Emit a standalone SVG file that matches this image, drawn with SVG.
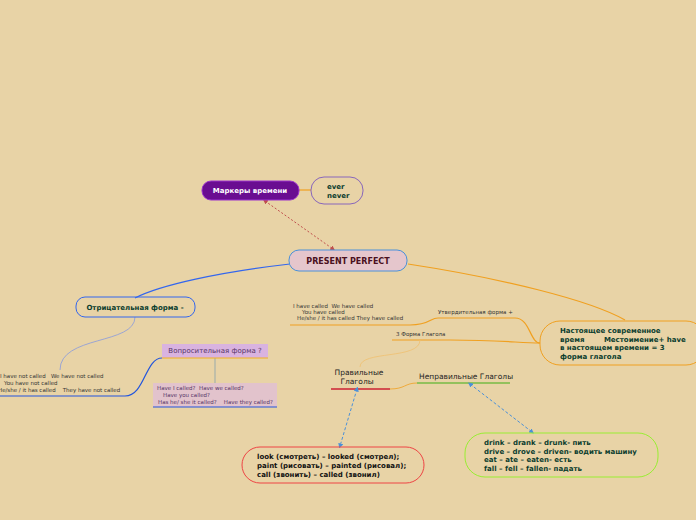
<svg xmlns="http://www.w3.org/2000/svg" width="696" height="520" viewBox="0 0 696 520">
<defs>
<marker id="ab" viewBox="0 0 10 10" refX="5" refY="5" markerWidth="5" markerHeight="5" orient="auto-start-reverse"><path d="M0,0L10,5L0,10z" fill="#4a90d9"/></marker>
<marker id="ar" viewBox="0 0 10 10" refX="5" refY="5" markerWidth="5" markerHeight="5" orient="auto-start-reverse"><path d="M0,0L10,5L0,10z" fill="#c0504d"/></marker>
</defs>
<style>
text{font-family:"DejaVu Sans",sans-serif;white-space:pre}
.b{font-weight:bold;font-size:7px;fill:#0b3d2e}
.s{font-size:5.5px;fill:#333}
.l{font-size:7.5px;fill:#222}
</style>
<rect width="696" height="520" fill="#e8d3a6"/>
<g id="connectors" fill="none">
<path d="M290,264 C220,272 160,285 135,298" stroke="#3366ee" stroke-width="1.2"/>
<path d="M408,264 C500,278 590,300 625,320" stroke="#f0a020" stroke-width="1.2"/>
<path d="M135,317 C135,345 60,335 60,370" stroke="#8899dd" stroke-width="0.8"/>
<path d="M0,396 L125,396 C145,396 145,358 162,358" stroke="#2255dd" stroke-width="1.2"/>
<line x1="215" y1="358" x2="215" y2="383" stroke="#9aa" stroke-width="1"/>
<path d="M290,325 L410,325 C430,325 430,318 438,318 L515,318 C530,318 530,343 540,343" stroke="#f0a020" stroke-width="1.2"/>
<path d="M392,340 L450,340 C500,340 520,343 540,343" stroke="#f0a020" stroke-width="1.2"/>
<path d="M420,340 C420,360 360,350 360,367" stroke="#f0c070" stroke-width="0.8"/>
<line x1="331" y1="389" x2="390" y2="389" stroke="#cc2233" stroke-width="1.5"/>
<path d="M390,389 C405,389 405,383 417,383" stroke="#f0a020" stroke-width="0.8"/>
<line x1="417" y1="383" x2="510" y2="383" stroke="#77bb44" stroke-width="1.5"/>
<line x1="299" y1="190" x2="311" y2="190" stroke="#f0a020" stroke-width="1.2"/>
<line x1="265" y1="201" x2="333" y2="249" stroke="#c0504d" stroke-dasharray="2,2" marker-start="url(#ar)" marker-end="url(#ar)"/>
<line x1="357" y1="389" x2="340" y2="446" stroke="#4a90d9" stroke-dasharray="3,2" marker-start="url(#ab)" marker-end="url(#ab)"/>
<line x1="470" y1="384" x2="532" y2="432" stroke="#4a90d9" stroke-dasharray="3,2" marker-start="url(#ab)" marker-end="url(#ab)"/>
</g>
<g id="present"><rect x="289" y="250" width="118" height="21" rx="10" fill="#e5c6cc" stroke="#4a90d9"/><text x="348" y="264" text-anchor="middle" style="font-weight:bold;font-size:8px;fill:#4a1020">PRESENT PERFECT</text></g>
<g id="markers"><rect x="202" y="181" width="97" height="19" rx="9" fill="#6a0d91" stroke="#9933cc"/><text x="250" y="193" text-anchor="middle" style="font-weight:bold;font-size:7px;fill:#fff">Маркеры времени</text></g>
<g id="ever"><rect x="311" y="177" width="52" height="27" rx="13" fill="none" stroke="#8866bb"/><text x="327" y="189" class="b">ever</text><text x="327" y="198" class="b">never</text></g>
<g id="neg"><rect x="76" y="297" width="119" height="20" rx="9" fill="none" stroke="#3366ee"/><text x="135" y="310" text-anchor="middle" class="b">Отрицательная форма -</text></g>
<g id="negtext"><text class="s" y="378"><tspan x="0">I have not called   We have not called</tspan><tspan x="4" dy="7">You have not called</tspan><tspan x="-2" dy="7">He/she / it has called    They have not called</tspan></text></g>
<g id="q"><rect x="162" y="344" width="106" height="14" fill="#d9b3e0"/><line x1="162" y1="358" x2="268" y2="358" stroke="#f0b020"/><text x="215" y="353" text-anchor="middle" style="font-size:7px;fill:#553366">Вопросительная форма ?</text></g>
<g id="qtext"><rect x="153" y="383" width="124" height="24" fill="#e2c3cc"/><line x1="153" y1="407" x2="277" y2="407" stroke="#2255dd" stroke-width="1.2"/><text class="s" style="fill:#553366" y="390"><tspan x="157">Have I called?  Have we called?</tspan><tspan x="163" dy="7">Have you called?</tspan><tspan x="158" dy="7">Has he/ she it called?    Have they called?</tspan></text></g>
<g id="afftext"><text class="s" y="308"><tspan x="293">I have called  We have called</tspan><tspan x="302" dy="6">You have called</tspan><tspan x="297" dy="6">He/she / it has called They have called</tspan></text></g>
<g id="aff"><text x="438" y="314" class="s">Утвердительная форма +</text></g>
<g id="f3"><text x="396" y="336" class="s">3 Форма Глагола</text></g>
<g id="present2"><rect x="540" y="321" width="166" height="44" rx="20" fill="none" stroke="#f0a020"/><text class="b" y="333"><tspan x="560">Настоящее современное</tspan><tspan x="560" dy="8.5">время        Местоимение+ have</tspan><tspan x="560" dy="8.5">в настоящем времени = 3</tspan><tspan x="560" dy="8.5">форма глагола</tspan></text></g>
<g id="reg"><text class="l" text-anchor="middle" x="359" y="375">Правильные</text><text class="l" text-anchor="middle" x="357" y="384">Глаголы</text></g>
<g id="irreg"><text class="l" x="419" y="379">Неправильные Глаголы</text></g>
<g id="regex"><rect x="242" y="447" width="182" height="36" rx="18" fill="none" stroke="#ee4444"/><text class="b" style="fill:#111" y="459"><tspan x="257">look (смотреть) – looked (смотрел);</tspan><tspan x="257" dy="9">paint (рисовать) – painted (рисовал);</tspan><tspan x="257" dy="9">call (звонить) – called (звонил)</tspan></text></g>
<g id="irrex"><rect x="465" y="433" width="193" height="44" rx="20" fill="none" stroke="#99ee33"/><text class="b" y="445"><tspan x="484">drink – drank – drunk- пить</tspan><tspan x="484" dy="9">drive – drove – driven- водить машину</tspan><tspan x="484" dy="8">eat – ate – eaten- есть</tspan><tspan x="484" dy="9">fall – fell – fallen- падать</tspan></text></g>
</svg>
